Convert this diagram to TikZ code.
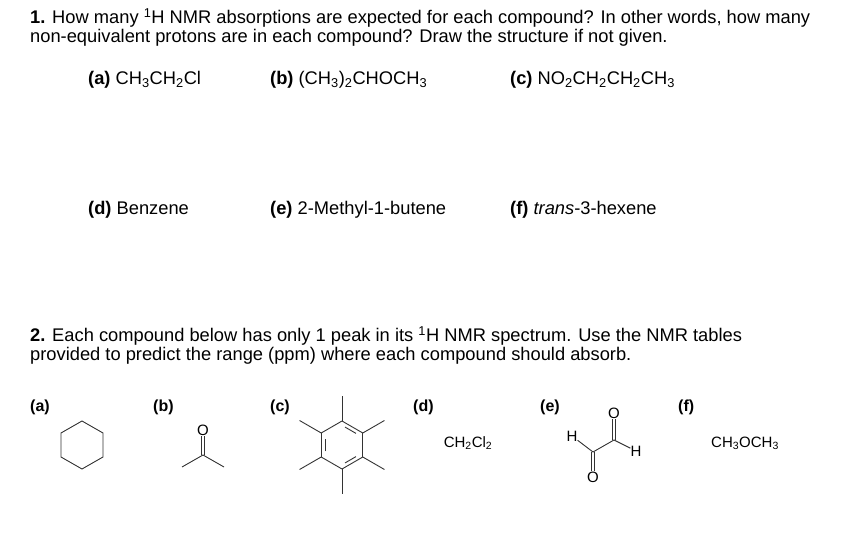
\documentclass[tikz,border=0pt]{standalone}
\usepackage{fontspec}
\setmainfont{Liberation Sans}
\usetikzlibrary{calc}
\begin{document}
\begin{tikzpicture}[x=1pt,y=-1pt,
  txt/.style={anchor=west,inner sep=0pt,font=\fontsize{18.3}{21}\selectfont},
  lbl/.style={anchor=west,inner sep=0pt,font=\fontsize{16}{18}\selectfont\bfseries},
  chem/.style={inner sep=0pt,font=\fontsize{15}{17}\selectfont},
  bond/.style={line width=0.9pt,draw=black!80}]
\useasboundingbox (0,0) rectangle (861,553);
\node[txt] (q1a) at (30,18) {\textbf{1.} How many \textsuperscript{1}H NMR absorptions are expected for each compound? In other words, how many};
\node[txt] (q1b) at (30,38) {non-equivalent protons are in each compound? Draw the structure if not given.};
\node[txt] (p1a) at (88,80) {\textbf{(a)} CH\textsubscript{3}CH\textsubscript{2}Cl};
\node[txt] (p1b) at (270,80) {\textbf{(b)} (CH\textsubscript{3})\textsubscript{2}CHOCH\textsubscript{3}};
\node[txt] (p1c) at (510,80) {\textbf{(c)} NO\textsubscript{2}CH\textsubscript{2}CH\textsubscript{2}CH\textsubscript{3}};
\node[txt] (p1d) at (88,210) {\textbf{(d)} Benzene};
\node[txt] (p1e) at (270,210) {\textbf{(e)} 2-Methyl-1-butene};
\node[txt] (p1f) at (510,210) {\textbf{(f)} \textit{trans}-3-hexene};
\node[txt] (q2a) at (30,336) {\textbf{2.} Each compound below has only 1 peak in its \textsuperscript{1}H NMR spectrum. Use the NMR tables};
\node[txt] (q2b) at (30,356) {provided to predict the range (ppm) where each compound should absorb.};
\node[lbl] (la) at (30,407) {(a)};
\node[lbl] (lb) at (153,407) {(b)};
\node[lbl] (lc) at (270,407) {(c)};
\node[lbl] (ld) at (413,407) {(d)};
\node[lbl] (le) at (540,407) {(e)};
\node[lbl] (lf) at (678,407) {(f)};
% (a) cyclohexane
\draw[bond] (82,421) -- (103,433) -- (103,457) -- (82,469) -- (61,457) -- (61,433) -- cycle;
% (b) acetone
\coordinate (bc) at (203,455);
\node[chem] (bo) at (203,430) {O};
\draw[bond] (182,467) -- (bc) -- (224,467);
\draw[bond] ([xshift=-1.5]bc) -- ([xshift=-1.5]bo.south);
\draw[bond] ([xshift=1.5]bc) -- ([xshift=1.5]bo.south);
% (c) hexamethylbenzene
\begin{scope}[shift={(342,445)}]
\foreach \a in {90,150,210,270,330,30} {\draw[bond] (\a:24) -- (\a+60:24); \draw[bond] (\a:24) -- (\a:49);}
\foreach \a in {30,150,270} {\draw[bond] ($(\a:24)!0.18!(\a+60:24)!0.18!(0,0)$) -- ($(\a+60:24)!0.18!(\a:24)!0.18!(0,0)$);}
\end{scope}
% (d)
\node[chem] (d) at (468,443) {CH\textsubscript{2}Cl\textsubscript{2}};
% (e) glyoxal
\coordinate (e1) at (593,452);
\coordinate (e2) at (614,440);
\node[chem] (eh1) at (572,436) {H};
\node[chem] (eh2) at (636,451) {H};
\node[chem] (eo1) at (614,413) {O};
\node[chem] (eo2) at (593,477) {O};
\draw[bond] (eh1) -- (e1) -- (e2) -- (eh2);
\draw[bond] ([xshift=-1.5]e2) -- ([xshift=-1.5]eo1.south);
\draw[bond] ([xshift=1.5]e2) -- ([xshift=1.5]eo1.south);
\draw[bond] ([xshift=-1.5]e1) -- ([xshift=-1.5]eo2.north);
\draw[bond] ([xshift=1.5]e1) -- ([xshift=1.5]eo2.north);
% (f)
\node[chem] (f) at (745,443) {CH\textsubscript{3}OCH\textsubscript{3}};
\end{tikzpicture}
\end{document}
